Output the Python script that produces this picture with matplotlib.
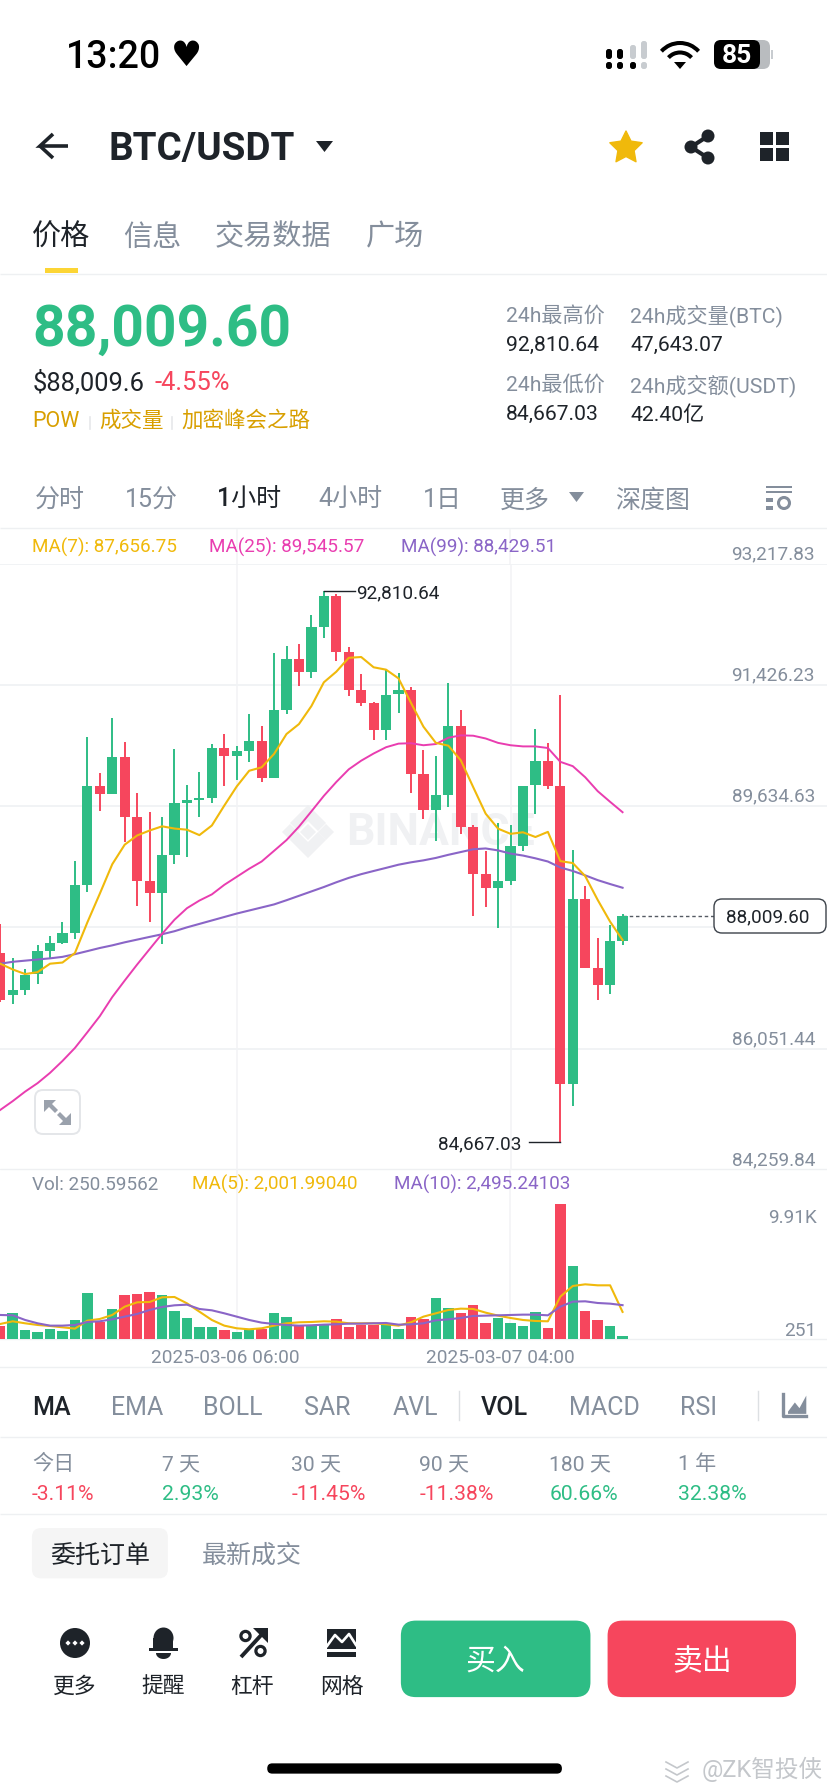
import matplotlib
matplotlib.use("Agg")
import matplotlib.pyplot as plt
from matplotlib.patches import FancyBboxPatch, Rectangle, Polygon, Circle, Arc, Ellipse
import numpy as np

plt.rcParams['font.family'] = ['Roboto', 'Noto Sans CJK SC', 'DejaVu Sans']

# candles
opens = [87465, 86848, 86916, 87148, 87488, 87618, 87759, 88466, 89926, 89813, 90356, 89473, 88523,
         88348, 88919, 89688, 89722, 89750, 90497, 90378, 90446, 90605, 90045, 91057, 91810, 91612,
         92285, 92739, 91915, 91348, 91155, 90757, 91289, 91348, 90103, 89577, 89799, 90822, 89320,
         88630, 88431, 88525, 89051, 89945, 90307, 89933, 85532, 88262, 87239, 86993, 87636]
highs = [87889, 87391, 87233, 87578, 87720, 87923, 88823, 90656, 90124, 90933, 90588, 89835, 89547,
         89473, 90475, 89943, 90146, 90548, 90695, 90531, 90995, 90814, 91900, 91996, 92025, 92454,
         92810.64, 92768, 91991, 91587, 91172, 91669, 91605, 91395, 90471, 90383, 91453, 91061, 89360,
         88969, 89390, 89360, 89939, 90781, 90565, 91278, 88981, 88455, 87689, 87882, 88045]
lows = [86747, 86718, 86848, 87001, 87391, 87595, 87674, 88364, 89564, 89813, 89106, 88155, 87929,
        87601, 88783, 88879, 89473, 89683, 89931, 90028, 90294, 89988, 90045, 91001, 91408, 91532,
        92125, 91786, 91266, 91120, 90611, 90611, 91009, 89828, 89448, 89121, 89629, 89220, 88010,
        88139, 87835, 88466, 88969, 89518, 89892, 84667.03, 85199, 87239, 86777, 86859, 87589]
closes = [86775, 86916, 87142, 87488, 87618, 87759, 88466, 89926, 89813, 90356, 89473, 88523, 88348,
          88919, 89688, 89722, 89750, 90497, 90373, 90446, 90605, 90045, 91057, 91810, 91612, 92285,
          92739, 91915, 91348, 91155, 90757, 91283, 91348, 90103, 89577, 89799, 90822, 89320, 88630,
          88431, 88525, 89045, 89939, 90307, 89933, 85532, 88262, 87239, 86993, 87636, 88009.6]

ma7 = [87307, 87222, 87154, 87182, 87307, 87324, 87465, 87918, 88342, 88777, 89066, 89202, 89275,
       89337, 89304, 89287, 89207, 89349, 89643, 89926, 90158, 90209, 90407, 90701, 90848, 91114,
       91465, 91622, 91827, 91839, 91687, 91652, 91523, 91161, 90810, 90570, 90529, 90313, 89916,
       89524, 89302, 89226, 89249, 89179, 89255, 88823, 88794, 88601, 88250, 87928, 87656.75]
ma25 = [85146, 85276, 85417, 85542, 85694, 85870, 86062, 86294, 86532, 86814, 87058, 87295, 87522,
        87748, 87957, 88127, 88240, 88331, 88472, 88591, 88710, 88817, 88975, 89134, 89332, 89558,
        89787, 89992, 90179, 90307, 90413, 90506, 90559, 90565, 90535, 90553, 90646, 90681, 90676,
        90635, 90570, 90535, 90518, 90518, 90494, 90290, 90226, 90062, 89857, 89699, 89545.57]
ma99 = [87307, 87335, 87352, 87369, 87386, 87408, 87448, 87493, 87539, 87578, 87623, 87663, 87703,
        87742, 87787, 87844, 87895, 87946, 87997, 88048, 88093, 88138, 88183, 88245, 88310, 88375,
        88440, 88510, 88575, 88630, 88677, 88723, 88770, 88805, 88834, 88870, 88916, 88957, 88998,
        89010, 88981, 88934, 88905, 88864, 88817, 88729, 88677, 88612, 88542, 88484, 88429.51]

volumes = [998, 1899, 657, 536, 730, 609, 1412, 3360, 1242, 2240, 3239, 3312, 3433, 3239, 2094, 1534,
           901, 901, 657, 536, 779, 779, 1924, 1607, 974, 1047, 1096, 1461, 877, 1047, 1047, 1071,
           779, 1631, 1510, 2995, 2265, 1899, 2508, 1169, 1534, 1218, 998, 1997, 852, 9910, 5357,
           2045, 1388, 974, 250.6]
vol_ma5 = [1120, 1315, 1169, 1047, 974, 877, 779, 1364, 1485, 1778, 2386, 2703, 2727, 3068, 3092, 2630,
           2021, 1412, 998, 804, 730, 804, 998, 1169, 1242, 1266, 1315, 1291, 1169, 1169, 1169, 1096,
           998, 1242, 1656, 1899, 2143, 2240, 2216, 1948, 1729, 1558, 1412, 1339, 1315, 3117, 3896,
           4018, 3945, 3945, 2001.99]
vol_ma10 = [1778, 1753, 1412, 1169, 998, 998, 1047, 1266, 1315, 1461, 1656, 1851, 2143, 2362, 2484, 2532,
            2216, 2118, 1899, 1656, 1412, 1218, 1120, 1047, 998, 1023, 1071, 1096, 1144, 1144, 1169, 1193,
            1071, 1096, 1169, 1388, 1461, 1558, 1705, 1729, 1753, 1778, 1802, 1802, 1753, 2386, 2752,
            2776, 2654, 2605, 2495.24]

grid_prices = [93217.83, 91426.23, 89634.63, 87843.03, 86051.44, 84259.84]
price_labels = ["93,217.83", "91,426.23", "89,634.63", None, "86,051.44", "84,259.84"]

W, H = 828, 1792
k = W / 725
GREEN = "#2EBD85"
RED = "#F6465D"
GOLD = "#F0B90B"
PINK = "#E93DB0"
PURPLE = "#8A65C7"
DARK = "#1E2329"
GREY = "#848E9C"
LINE = "#EEF0F2"
LABEL = 13.7

fig = plt.figure(figsize=(W / 100, H / 100), dpi=100, facecolor="white")


def px_axes(top, bottom, zorder):
    a = fig.add_axes([0, 1 - bottom / H, 1, (bottom - top) / H], zorder=zorder)
    a.patch.set_alpha(0)
    a.set_xticks([])
    a.set_yticks([])
    for s in a.spines.values():
        s.set_visible(False)
    return a


ui = px_axes(0, H, 0)
ui.set_xlim(0, W)
ui.set_ylim(H, 0)
top = px_axes(0, H, 5)
top.set_xlim(0, W)
top.set_ylim(H, 0)


def t(x, y, s, size=13, color=DARK, ha="left", weight="normal", ax=ui, **kw):
    # x, y in the 725 wide layout
    ax.text(x * k, (y + 2.2) * k, s, fontsize=size, color=color, ha=ha, va="center", fontweight=weight, **kw)


def hline(y, x0=0, x1=725, color=LINE, lw=1.0):
    ui.plot([x0 * k, x1 * k], [y * k, y * k], color=color, lw=lw, solid_capstyle="butt")


# status bar
t(58, 48, "13:20", 27, "black", weight="medium")
ui.text(186.5, 56, "♥", fontsize=25, color="black", ha="center", va="center", family="DejaVu Sans")
for px, y0, y1, c in [(609, 49, 59, "black"), (609, 62, 69, "black"), (620, 49, 59, "black"),
                      (620, 62, 69, "black"), (633, 62, 69, "black"), (644, 62, 69, "#C8CCD0"),
                      (633, 45, 59, "#C8CCD0"), (644, 41, 59, "#C8CCD0")]:
    ui.add_patch(FancyBboxPatch((px - 3, y0), 6, y1 - y0, boxstyle="round,pad=0,rounding_size=2.6",
                                fc=c, ec="none"))
for d in (50, 31):
    ui.add_patch(Arc((680, 68), d, d, theta1=222, theta2=318, color="black", lw=2.9))
ui.add_patch(Polygon([(674, 62), (686, 62), (680, 69)], fc="black", ec="none"))
ui.add_patch(FancyBboxPatch((714, 40), 56, 29, boxstyle="round,pad=0,rounding_size=7", fc="#B9BCBF", ec="none"))
ui.add_patch(FancyBboxPatch((714, 40), 46, 29, boxstyle="round,pad=0,rounding_size=7", fc="black", ec="none"))
ui.add_patch(Rectangle((771, 50), 2.5, 9, fc="#C8CCD0", ec="none"))
ui.text(737, 56, "85", fontsize=19, color="white", ha="center", va="center", fontweight="bold")

# header
ui.plot([68, 40, 53], [146, 146, 134], color=DARK, lw=2.6, solid_capstyle="butt", solid_joinstyle="miter")
ui.plot([40, 53], [146, 158], color=DARK, lw=2.6, solid_capstyle="butt")
ui.text(109, 149, "BTC/USDT", fontsize=27.8, color=DARK, ha="left", va="center", fontweight="bold")
ui.add_patch(Polygon([(316, 141), (333, 141), (324.5, 152)], fc=DARK, ec="none"))
ang = np.deg2rad(np.arange(0, 360, 36) - 90)
rad = np.where(np.arange(10) % 2 == 0, 17, 8.5)
ui.add_patch(Polygon(np.c_[626 + rad * np.cos(ang), 148 + rad * np.sin(ang)], fc=GOLD, ec=GOLD, lw=1,
                     joinstyle="round"))
ui.plot([708, 691, 708], [136, 147, 158], color=DARK, lw=3)
for cx, cy in [(708, 136), (691, 147), (708, 158)]:
    ui.add_patch(Circle((cx, cy), 6.5, fc=DARK, ec="none"))
for gx, gy in [(760, 132), (776, 132), (760, 148), (776, 148)]:
    ui.add_patch(Rectangle((gx, gy), 13, 13, fc=DARK, ec="none"))

# tabs
for tx, s, c in [(28, "价格", DARK), (108, "信息", GREY), (188, "交易数据", GREY), (320, "广场", GREY)]:
    t(tx, 206, s, 21, c, weight="medium")
ui.add_patch(Rectangle((45, 268), 33, 5, fc="#FCD535", ec="none"))
hline(239.5)

# price block
t(28, 287, "88,009.60", 41, GREEN, weight="bold")
t(29, 333, "$88,009.6", 18.4, DARK)
t(135, 333, "-4.55%", 18.4, RED)
t(28, 367, "POW", 15.5, "#D89F00")
t(87, 367, "成交量", 15.5, "#D89F00")
t(159, 367, "加密峰会之路", 15.5, "#D89F00")
for sx in (78.5, 151):
    ui.plot([sx * k, sx * k], [417, 429], color="#E6E8EA", lw=1.2)
for tx, y, s, c in [(443, 274, "24h最高价", GREY), (443, 300, "92,810.64", DARK),
                    (552, 274, "24h成交量(BTC)", GREY), (552, 300, "47,643.07", DARK),
                    (443, 335, "24h最低价", GREY), (443, 361, "84,667.03", DARK),
                    (552, 335, "24h成交额(USDT)", GREY), (552, 361, "42.40亿", DARK)]:
    t(tx, y, s, 15.2, c)

# timeframe row
for tx, s, c in [(31, "分时", GREY), (109, "15分", GREY), (190, "1小时", DARK), (279, "4小时", GREY),
                 (370, "1日", GREY), (438, "更多", GREY), (539, "深度图", GREY)]:
    t(tx, 436, s, 18, c, weight="medium" if c == DARK else "normal")
ui.add_patch(Polygon([(569, 492), (584, 492), (576.5, 502)], fc=GREY, ec="none"))
ui.add_patch(Rectangle((766, 486), 26, 2.5, fc=GREY, ec="none"))
ui.add_patch(Rectangle((766, 491), 26, 2.5, fc=GREY, ec="none"))
ui.add_patch(Rectangle((766, 498), 7, 4, fc=GREY, ec="none"))
ui.add_patch(Rectangle((766, 506), 7, 4, fc=GREY, ec="none"))
ui.add_patch(Circle((784, 503), 5.5, fc="white", ec=GREY, lw=2.2))
hline(462)

# indicator legends
t(28, 477, "MA(7): 87,656.75", 13.6, GOLD)
t(183, 477, "MA(25): 89,545.57", 13.6, PINK)
t(351, 477, "MA(99): 88,429.51", 13.6, PURPLE)
t(28, 1035, "Vol: 250.59562", 13.6, GREY)
t(168, 1035, "MA(5): 2,001.99040", 13.6, GOLD)
t(345, 1035, "MA(10): 2,495.24103", 13.6, PURPLE)

# watermark + expand icon go under the plot
wm = "#F0F1F3"
ui.text(346, 833, "BINANCE", fontsize=32, color=wm, ha="left", va="center", fontweight="bold")
for poly in [[(308, 805), (326, 823), (318, 831), (308, 821), (298, 831), (290, 823)],
             [(308, 858), (326, 840), (318, 832), (308, 842), (298, 832), (290, 840)],
             [(308, 824), (316, 832), (308, 840), (300, 832)],
             [(282, 832), (290, 824), (298, 832), (290, 840)],
             [(334, 832), (326, 824), (318, 832), (326, 840)]]:
    ui.add_patch(Polygon(poly, fc=wm, ec="none"))
ui.add_patch(FancyBboxPatch((35, 1090), 45, 44, boxstyle="round,pad=0,rounding_size=8", fc="white",
                            ec="#E4E6E9", lw=1.4))
ui.add_patch(Polygon([(44, 1100), (56, 1100), (52, 1104), (58, 1110), (55, 1113), (49, 1107), (44, 1112)],
                     fc="#9AA1AC", ec="none"))
ui.add_patch(Polygon([(71, 1125), (59, 1125), (63, 1121), (57, 1115), (60, 1112), (66, 1118), (71, 1113)],
                     fc="#9AA1AC", ec="none"))

# price chart
x = np.arange(len(closes))
xlim = (-0.02, W / 12.45)
price_top, price_bottom = 563.7, 1169.9
ax = px_axes(price_top, price_bottom, 2)
ax.set_xlim(xlim)
ax.set_ylim(grid_prices[-1], grid_prices[0])
for p in grid_prices:
    ax.axhline(p, color=LINE, lw=1.1, zorder=0)
for tx in (19.04, 41):
    ax.axvline(tx, color="#F2F3F5", lw=1.1, zorder=0)
cols = [GREEN if c >= o else RED for o, c in zip(opens, closes)]
ax.vlines(x, lows, highs, colors=cols, lw=1.4, zorder=2)
ax.bar(x, np.abs(np.array(closes) - np.array(opens)), bottom=np.minimum(opens, closes), width=0.82,
       color=cols, zorder=3)
ax.plot(x, ma99, color=PURPLE, lw=1.5, zorder=4)
ax.plot(x, ma25, color=PINK, lw=1.4, zorder=4)
ax.plot(x, ma7, color=GOLD, lw=1.5, zorder=5)
ax.plot([x[-1], 714 / 12.45], [closes[-1]] * 2, color="#555B63", lw=1, ls=(0, (2.5, 2)), zorder=2)
for p, s in zip(grid_prices, price_labels):
    if s:
        ax.annotate(s, (815, p), xycoords=("figure pixels", "data"), xytext=(0, 9.5), textcoords="offset pixels",
                    ha="right", va="center", fontsize=LABEL, color=GREY)

# high / low markers
i_hi = int(np.argmax(highs))
i_lo = int(np.argmin(lows))
ax.plot([x[i_hi], x[i_hi] + 2.5], [highs[i_hi]] * 2, color=DARK, lw=1)
ax.annotate("92,810.64", (x[i_hi] + 2.6, highs[i_hi]), xytext=(0, -2), textcoords="offset pixels",
            fontsize=LABEL, color=DARK, va="center")
ax.plot([x[i_lo] - 2.55, x[i_lo]], [lows[i_lo]] * 2, color=DARK, lw=1)
ax.annotate("84,667.03", (x[i_lo] - 3.1, lows[i_lo]), xytext=(0, -2), textcoords="offset pixels",
            fontsize=LABEL, color=DARK, va="center", ha="right", annotation_clip=False)

# last price tag
top.add_patch(FancyBboxPatch((714, 899), 112, 34, boxstyle="round,pad=0,rounding_size=8", fc="white",
                             ec="#3C424A", lw=1))
top.text(768, 917, "88,009.60", fontsize=LABEL, color=DARK, ha="center", va="center")

# volume chart
vol_base = 1339.3
vol_top = 1203.7
vax = px_axes(vol_top, vol_base, 2)
vax.set_xlim(xlim)
vax.set_ylim(0, 9910)
vax.bar(x, volumes, width=0.84, color=cols, zorder=2)
vax.plot(x, vol_ma5, color=GOLD, lw=1.5, zorder=4)
vax.plot(x, vol_ma10, color=PURPLE, lw=1.5, zorder=5)
for tx in (237, 510.5):
    ui.plot([tx, tx], [1170, 1339], color="#F2F3F5", lw=1.1)
    ui.plot([tx, tx], [530, 564], color="#F2F3F5", lw=1.1)
hline(1023.5)
ui.plot([0, W], [vol_base, vol_base], color=LINE, lw=1)
ui.text(817, 1218, "9.91K", fontsize=LABEL, color=GREY, ha="right", va="center")
ui.text(816, 1331, "251", fontsize=LABEL, color=GREY, ha="right", va="center")
ui.text(225, 1358, "2025-03-06 06:00", fontsize=LABEL, color=GREY, ha="center", va="center")
ui.text(500, 1358, "2025-03-07 04:00", fontsize=LABEL, color=GREY, ha="center", va="center")
ui.plot([0, W], [1367.5, 1367.5], color=LINE, lw=1)

# indicator tabs
for tx, s, c in [(28, "MA", DARK), (97, "EMA", GREY), (178, "BOLL", GREY), (266, "SAR", GREY),
                 (344, "AVL", GREY), (421, "VOL", DARK), (498, "MACD", GREY), (595, "RSI", GREY)]:
    t(tx, 1231, s, 18, c, weight="medium" if c == DARK else "normal")
for xd in (402, 664):
    ui.plot([xd * k, xd * k], [1218 * k, 1243 * k], color="#DDE0E3", lw=1)
ui.plot(np.array([686, 686, 706]) * k, np.array([1221, 1240, 1240]) * k, color=GREY, lw=2.4)
ui.add_patch(Polygon(np.c_[np.array([690, 696, 700, 706, 706, 690]) * k, np.array([1236, 1228, 1233, 1222, 1238, 1238]) * k],
                     fc=GREY, ec="none"))
hline(1258)

# period returns
for tx, a, b, c in [(28, "今日", "-3.11%", RED), (142, "7 天", "2.93%", GREEN), (255, "30 天", "-11.45%", RED),
                    (367, "90 天", "-11.38%", RED), (481, "180 天", "60.66%", GREEN), (594, "1 年", "32.38%", GREEN)]:
    t(tx, 1280, a, 15.2, GREY)
    t(tx, 1306, b, 15.2, c)
hline(1326)

# order book tabs
ui.add_patch(FancyBboxPatch((28 * k, 1338 * k), 119 * k, 44 * k, boxstyle="round,pad=0,rounding_size=9",
                            fc="#F5F5F5", ec="none"))
t(44, 1360, "委托订单", 18, DARK, weight="medium")
t(177, 1360, "最新成交", 18, GREY, weight="medium")

# bottom bar
for tx, s in [(65, "更多"), (143, "提醒"), (221, "杠杆"), (299, "网格")]:
    t(tx, 1475.5, s, 15.7, DARK, ha="center")
ui.add_patch(Circle((75, 1643), 15, fc=DARK, ec="none"))
for dx in (-7, 0, 7):
    ui.add_patch(Polygon([(75 + dx - 2.6, 1643), (75 + dx, 1640.4), (75 + dx + 2.6, 1643), (75 + dx, 1645.6)],
                         fc="white", ec="none"))
# bell
ui.add_patch(Ellipse((163.5, 1638), 20, 21, fc=DARK, ec="none"))
ui.add_patch(Rectangle((153.5, 1638), 20, 11, fc=DARK, ec="none"))
ui.add_patch(Rectangle((149, 1648), 29, 3.5, fc=DARK, ec="none"))
half = np.deg2rad(np.linspace(0, 180, 20))
ui.add_patch(Polygon(np.c_[163.5 + 7.5 * np.cos(half), 1653 + 6 * np.sin(half)], fc=DARK, ec="none"))
# leverage
ui.plot([241, 264], [1657, 1632], color=DARK, lw=2.8, solid_capstyle="butt")
ui.add_patch(Polygon([(253, 1628.5), (268, 1628.5), (268, 1643)], fc=DARK, ec="none"))
ui.add_patch(Circle((245.5, 1636), 4.6, fc="white", ec=DARK, lw=2.3))
ui.add_patch(Circle((260.5, 1651), 4.6, fc="white", ec=DARK, lw=2.3))
# grid bots
ui.add_patch(Rectangle((327, 1629), 29, 20, fc=DARK, ec="none"))
ui.plot([327, 335, 342, 349, 356], [1646, 1635, 1642, 1634, 1645], color="white", lw=1.9)
ui.add_patch(Rectangle((327, 1652), 29, 5, fc=DARK, ec="none"))

for x0, x1, c, s in [(351, 517, GREEN, "买入"), (532, 697, RED, "卖出")]:
    ui.add_patch(FancyBboxPatch((x0 * k, 1419 * k), (x1 - x0) * k, 67 * k, boxstyle="round,pad=0,rounding_size=15",
                                fc=c, ec="none"))
    t((x0 + x1) / 2, 1453, s, 21.5, "white", ha="center", weight="medium")

ui.add_patch(FancyBboxPatch((234 * k, 1544 * k), 258 * k, 9 * k, boxstyle="round,pad=0,rounding_size=5",
                            fc="black", ec="none"))
t(720, 1547.5, "@ZK智投侠", 17, "#C4C7CB", ha="right")
for oy in (1762, 1769, 1776):
    ui.plot([666, 677, 688], [oy, oy + 6, oy], color="#C4C7CB", lw=1.2)

fig.savefig("out.png", dpi=100)
plt.close(fig)
